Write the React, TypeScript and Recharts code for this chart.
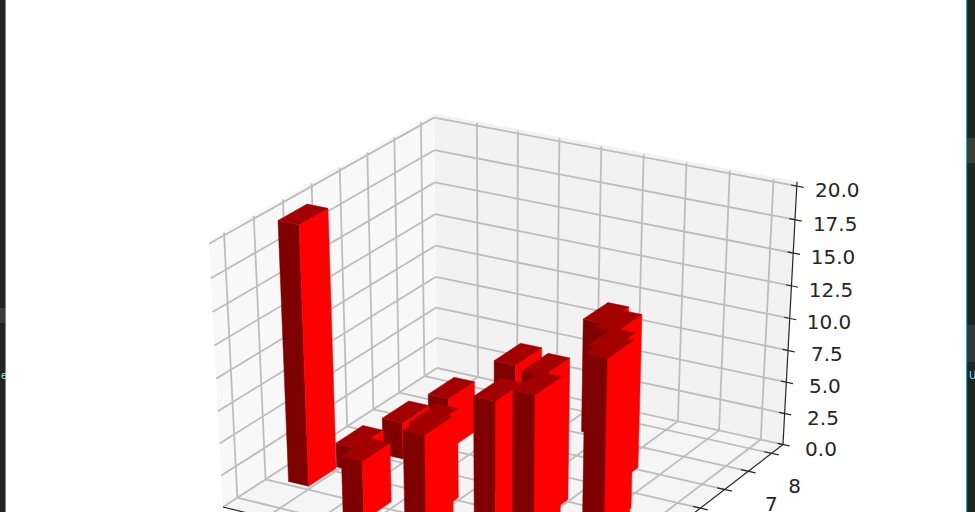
import { ScatterChart, Scatter, XAxis, YAxis } from "recharts";

const xTicks = [1, 2, 3, 4, 5, 6, 7, 8];
const yTicks = [1, 2, 3, 4, 5, 6, 7, 8];
const zTicks = [0, 2.5, 5, 7.5, 10, 12.5, 15, 17.5, 20];
const yTickLabels = [8, 7];

// bar3d values: x/y are the low corner of each bar
const barX = [0.42, 0.89, 2.33, 1.4, 1.98, 3.43, 3.96, 4.38, 5.45, 4.96, 5.89, 4.47, 5.93, 6.79, 7.22];
const barY = [2.14, 3.2, 1.31, 4.17, 5.03, 2.12, 1.1, 3.78, 3.09, 2.1, 2.06, 7.09, 5.09, 3.34, 2.54];
const barZ = [20, 1.9, 4.65, 2.9, 4.05, 7, 8.2, 10.1, 11, 10.1, 11.3, 9, 12, 13.5, 14.3];
const barDx = 0.5;
const barDy = 1;

const X_RANGE = [-0.057, 8.53];
const Y_RANGE = [0.5, 8.5];
const Z_MAX = 20.2;
const PANE_TOP = 1.006;

const W = 975;
const H = 512;

// camera calibration: where the box corners land in the chart's own x/y domain
const O = [437, 368];
const R = [783, 444.5];
const L = [223, 507];
const T = [434, 115];
const KU = 0.957;
const KV = 0.93;
const KW = 0.955;

function project(u: number, v: number, w: number) {
  const d = 1 + u * (KU - 1) + v * (KV - 1) + w * (KW - 1);
  const sx = O[0] + u * (KU * R[0] - O[0]) + v * (KV * L[0] - O[0]) + w * (KW * T[0] - O[0]);
  const sy = O[1] + u * (KU * R[1] - O[1]) + v * (KV * L[1] - O[1]) + w * (KW * T[1] - O[1]);
  return { sx: sx / d, sy: sy / d, d };
}

const toU = (x: number) => (x - X_RANGE[0]) / (X_RANGE[1] - X_RANGE[0]);
const toV = (y: number) => (Y_RANGE[1] - y) / (Y_RANGE[1] - Y_RANGE[0]);
const toW = (z: number) => z / Z_MAX;

const pts = (corners: number[][]) =>
  corners
    .map((c) => {
      const p = project(c[0], c[1], c[2]);
      return `${p.sx},${p.sy}`;
    })
    .join(" ");

const panes = [
  { fill: "#f8f8f8", corners: [[0, 0, 0], [0, 1, 0], [0, 1, PANE_TOP], [0, 0, PANE_TOP]] },
  { fill: "#f2f2f2", corners: [[0, 0, 0], [1, 0, 0], [1, 0, PANE_TOP], [0, 0, PANE_TOP]] },
  { fill: "#f5f5f5", corners: [[0, 0, 0], [1, 0, 0], [1, 1, 0], [0, 1, 0]] },
].map((p) => ({ ...project(p.corners[0][0], p.corners[0][1], p.corners[0][2]), ...p }));

const gridLines: number[][][] = [
  ...xTicks.flatMap((x) => [
    [[toU(x), 0, 0], [toU(x), 0, 1]],
    [[toU(x), 0, 0], [toU(x), 1, 0]],
  ]),
  ...yTicks.flatMap((y) => [
    [[0, toV(y), 0], [0, toV(y), 1]],
    [[0, toV(y), 0], [1, toV(y), 0]],
  ]),
  ...zTicks.flatMap((z) => [
    [[0, 0, toW(z)], [0, 1, toW(z)]],
    [[0, 0, toW(z)], [1, 0, toW(z)]],
  ]),
];

const axisLines: number[][][] = [
  [[1, 0, 0], [1, 0, PANE_TOP]],
  [[1, 0, 0], [1, 1, 0]],
  [[0, 1, 0], [1, 1, 0]],
  ...zTicks.map((z) => [[0.985, 0, toW(z)], [1.018, 0, toW(z)]]),
  ...yTicks.map((y) => [[0.98, toV(y), 0], [1.02, toV(y), 0]]),
  ...xTicks.map((x) => [[toU(x), 0.97, 0], [toU(x), 1.03, 0]]),
];

const bars = barX
  .map((x, i) => {
    const u0 = toU(x);
    const u1 = toU(x + barDx);
    const v1 = toV(barY[i]);
    const v0 = toV(barY[i] + barDy);
    const w = toW(barZ[i]);
    const base = project((u0 + u1) / 2, (v0 + v1) / 2, 0);
    return {
      ...base,
      faces: [
        { fill: "#7f0000", corners: [[u0, v1, 0], [u1, v1, 0], [u1, v1, w], [u0, v1, w]] },
        { fill: "#ff0000", corners: [[u1, v1, 0], [u1, v0, 0], [u1, v0, w], [u1, v1, w]] },
        { fill: "#a50000", corners: [[u0, v1, w], [u1, v1, w], [u1, v0, w], [u0, v0, w]] },
      ],
    };
  })
  .sort((a, b) => b.d - a.d);

const zLabels = zTicks.map((z) => {
  const p = project(1, 0, toW(z));
  return { sx: p.sx + 38 + toW(z) * 2.5, sy: p.sy + 4, text: z.toFixed(1) };
});
const yLabels = yTickLabels.map((y) => {
  const p = project(1, toV(y), 0);
  return { sx: p.sx + 23, sy: p.sy + 33, text: String(y) };
});

const noDot = () => null;

const PaneShape = (props: any) => <polygon points={pts(props.payload.corners)} fill={props.payload.fill} />;

const BarShape = (props: any) => (
  <g>
    {props.payload.faces.map((f: any, i: number) => (
      <polygon key={i} points={pts(f.corners)} fill={f.fill} stroke={f.fill} strokeWidth={0.5} />
    ))}
  </g>
);

const LabelShape = (props: any) => (
  <text
    x={props.cx}
    y={props.cy}
    textAnchor="middle"
    dominantBaseline="central"
    fontFamily="DejaVu Sans"
    fontSize={20}
    fill="#262626"
  >
    {props.payload.text}
  </text>
);

const segment = (s: number[][]) => s.map((c) => project(c[0], c[1], c[2]));

function Chrome() {
  const strip = { position: "absolute", top: 0, height: H, background: "#23241f" } as const;
  return (
    <>
      <div style={{ ...strip, left: 0, width: 5 }} />
      <div style={{ position: "absolute", left: 0, top: 308, width: 5, height: 15, background: "#3c3c3c" }} />
      <div style={{ position: "absolute", left: 5, top: 0, width: 1, height: H, background: "#2aa7b8" }} />
      <div style={{ ...strip, left: 967, width: 8 }} />
      <div style={{ position: "absolute", left: 967, top: 138, width: 8, height: 25, background: "#3c3c32" }} />
      <div style={{ position: "absolute", left: 967, top: 325, width: 8, height: 37, background: "#36373a" }} />
      <div style={{ position: "absolute", left: 966, top: 0, width: 1, height: H, background: "#2aa7b8" }} />
      <span style={{ position: "absolute", left: 1, top: 370, fontFamily: "DejaVu Sans", fontSize: 10, color: "#9cdcfe" }}>e</span>
      <span style={{ position: "absolute", left: 969, top: 370, fontFamily: "DejaVu Sans", fontSize: 10, color: "#9cdcfe" }}>U</span>
    </>
  );
}

export default function App() {
  return (
    <div style={{ position: "fixed", left: 0, top: 0, width: W, height: H, overflow: "hidden", background: "#fff" }}>
      <ScatterChart width={W} height={H} margin={{ top: 0, right: 0, bottom: 0, left: 0 }}>
        <XAxis type="number" dataKey="sx" domain={[0, W]} hide allowDataOverflow />
        <YAxis type="number" dataKey="sy" domain={[0, H]} reversed hide allowDataOverflow />
        <Scatter data={panes} shape={PaneShape} isAnimationActive={false} />
        {gridLines.map((s, i) => (
          <Scatter
            key={"g" + i}
            data={segment(s)}
            line={{ stroke: "#bdbdbd", strokeWidth: 1.8 }}
            shape={noDot}
            isAnimationActive={false}
          />
        ))}
        {axisLines.map((s, i) => (
          <Scatter
            key={"a" + i}
            data={segment(s)}
            line={{ stroke: "#262626", strokeWidth: 1.2 }}
            shape={noDot}
            isAnimationActive={false}
          />
        ))}
        <Scatter data={bars} shape={BarShape} isAnimationActive={false} />
        <Scatter data={zLabels} shape={LabelShape} isAnimationActive={false} />
        <Scatter data={yLabels} shape={LabelShape} isAnimationActive={false} />
      </ScatterChart>
      <Chrome />
    </div>
  );
}
